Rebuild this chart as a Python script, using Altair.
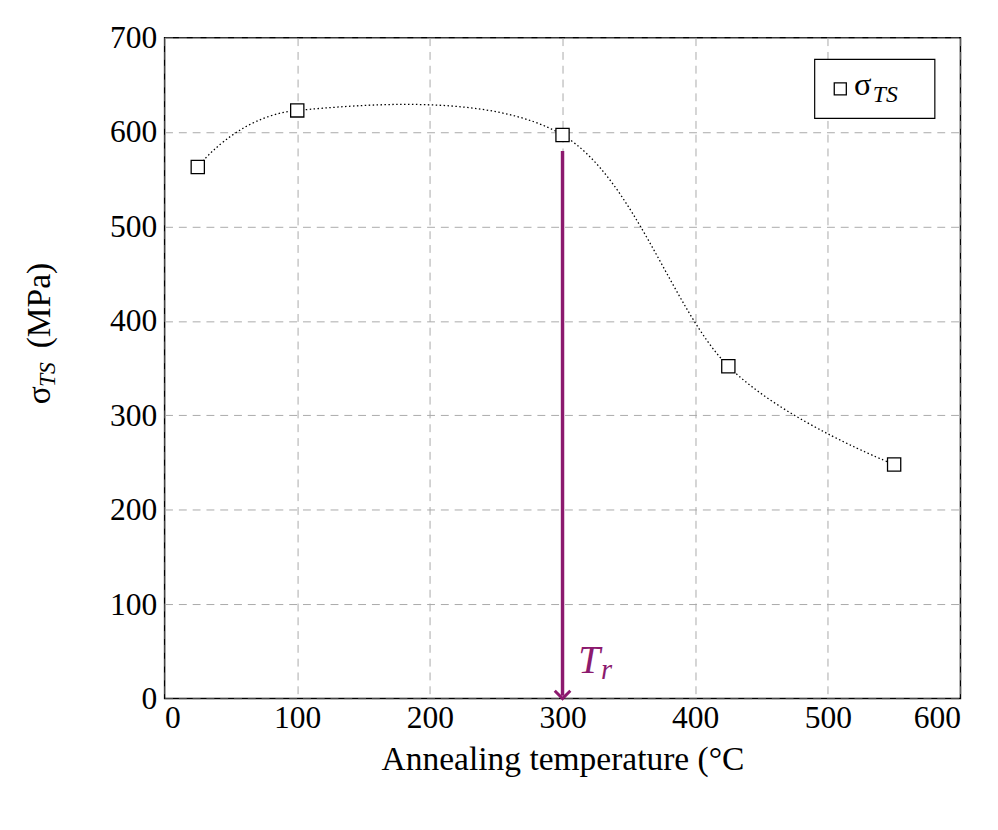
import altair as alt
import pandas as pd

temps = [25, 100, 300, 425, 550]
sigma = [563, 623, 597, 352, 248]
df = pd.DataFrame({"T": temps, "S": sigma})
purple = "#8C1A6E"
font = "Liberation Serif"

xs = alt.Scale(domain=[0, 600], nice=False)
ys = alt.Scale(domain=[0, 700], nice=False)
xax = alt.Axis(values=[0,100,200,300,400,500,600], grid=True, gridDash=[8,6], gridColor="#aaaaaa",
               ticks=False, labelFontSize=32, labelFont=font, labelColor="black", labelPadding=4,
               title="Annealing temperature (°C", titleFont=font, titleFontSize=34, titleFontWeight="normal",
               titleColor="black", titlePadding=10, domain=False)
yax = alt.Axis(values=[0,100,200,300,400,500,600,700], grid=True, gridDash=[8,6], gridColor="#aaaaaa",
               ticks=False, labelFontSize=32, labelFont=font, labelColor="black", labelPadding=8,
               title=None, domain=False)

base = alt.Chart(df)
line = base.mark_line(interpolate="cardinal", strokeDash=[1.5, 2.5], color="black", strokeWidth=1.3).encode(
    x=alt.X("T:Q", scale=xs, axis=xax), y=alt.Y("S:Q", scale=ys, axis=yax))
pts = base.mark_point(shape="square", size=180, filled=True, fill="white", stroke="black", strokeWidth=1.3, opacity=1).encode(
    x=alt.X("T:Q", scale=xs), y=alt.Y("S:Q", scale=ys))

arrow_df = pd.DataFrame({"x": [300], "y1": [580], "y2": [3], "tip": [0], "ly": [40]})
ab = alt.Chart(arrow_df)
rule = ab.mark_rule(color=purple, strokeWidth=3.5).encode(
    x=alt.X("x:Q", scale=xs), y=alt.Y("y1:Q", scale=ys), y2="y2:Q")
head = ab.mark_point(shape="M-1,-1L0,0L1,-1", size=250, filled=False, stroke=purple, strokeWidth=3, opacity=1).encode(
    x=alt.X("x:Q", scale=xs), y=alt.Y("tip:Q", scale=ys))
tlab = ab.mark_text(text="T", font=font, fontStyle="italic", fontSize=40, color=purple, align="left", dx=16).encode(
    x=alt.X("x:Q", scale=xs), y=alt.Y("ly:Q", scale=ys))
rlab = ab.mark_text(text="r", font=font, fontStyle="italic", fontSize=29, color=purple, align="left", dx=39, dy=9).encode(
    x=alt.X("x:Q", scale=xs), y=alt.Y("ly:Q", scale=ys))

one = pd.DataFrame({"a": [0]})
oc = alt.Chart(one)
legbox = oc.mark_rect(fill="white", stroke="black", strokeWidth=1.2).encode(
    x=alt.value(660), x2=alt.value(782), y=alt.value(22), y2=alt.value(82))
legpt = oc.mark_point(shape="square", size=150, fill="white", filled=True, stroke="black", strokeWidth=1.3, opacity=1).encode(
    x=alt.value(686), y=alt.value(52))
legs = oc.mark_text(text="σ", font=font, fontSize=33, align="left", baseline="middle").encode(
    x=alt.value(700), y=alt.value(48))
legts = oc.mark_text(text="TS", font=font, fontStyle="italic", fontSize=24, align="left", baseline="middle").encode(
    x=alt.value(719), y=alt.value(58))

ys1 = oc.mark_text(text="σ", font=font, fontSize=34, angle=270, align="center", baseline="middle").encode(
    x=alt.value(-126), y=alt.value(363))
ys2 = oc.mark_text(text="TS", font=font, fontStyle="italic", fontSize=24, angle=270, align="center", baseline="middle").encode(
    x=alt.value(-118), y=alt.value(342))
ys3 = oc.mark_text(text="(MPa)", font=font, fontSize=34, angle=270, align="center", baseline="middle").encode(
    x=alt.value(-126), y=alt.value(272))

chart = alt.layer(line, pts, rule, head, tlab, rlab, legbox, legpt, legs, legts, ys1, ys2, ys3).properties(
    width=808, height=671, autosize=alt.AutoSizeParams(type="none"),
    padding={"left": 159, "top": 24, "right": 30, "bottom": 110}
).configure_view(stroke="black", strokeWidth=1.5)

chart.save("out.html", embed_options={"renderer": "svg", "actions": False})
